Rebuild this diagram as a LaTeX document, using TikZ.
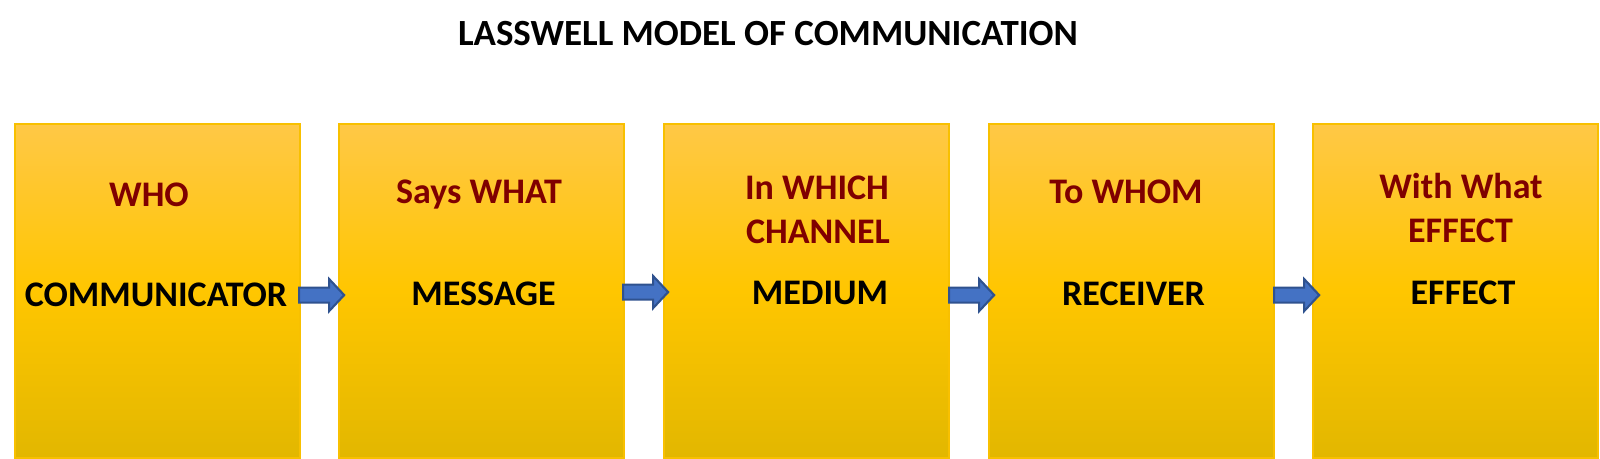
\documentclass[tikz,border=0pt]{standalone}
\usepackage{fontspec}
\setmainfont{Carlito}
\usetikzlibrary{calc}
\definecolor{topc}{HTML}{FFC846}
\definecolor{midc}{HTML}{FFC600}
\definecolor{botc}{HTML}{E2B700}
\definecolor{boxedge}{HTML}{F8C000}
\definecolor{dred}{HTML}{7F0000}
\definecolor{ablue}{HTML}{4472C4}
\definecolor{ablued}{HTML}{2F528F}
\begin{document}
\begin{tikzpicture}[x=0.01cm,y=-0.01cm,
  box/.style={draw=boxedge, line width=0.4pt, top color=topc, bottom color=botc, middle color=midc,
    minimum width=2.85cm, minimum height=3.34cm, anchor=north west, inner sep=0pt, outer sep=0pt},
  redtxt/.style={text=dred, font=\fontsize{10.24pt}{12pt}\selectfont\bfseries, anchor=base, inner sep=0pt},
  blacktxt/.style={text=black, font=\fontsize{10.24pt}{12pt}\selectfont\bfseries, anchor=base, inner sep=0pt},
  titletxt/.style={text=black, font=\fontsize{10.5pt}{12pt}\selectfont\bfseries, anchor=base, inner sep=0pt},
  barrow/.style={fill=ablue, draw=ablued, line width=0.6pt, line join=miter}
]
\useasboundingbox (0,0) rectangle (1600,459);
\node[titletxt] (title) at (768,46) {LASSWELL MODEL OF COMMUNICATION};

\node[box] (b1) at (15,124) {};
\node[box] (b2) at (339,124) {};
\node[box] (b3) at (664,124) {};
\node[box] (b4) at (989,124) {};
\node[box] (b5) at (1313,124) {};

\node[redtxt] (t1) at (149,207) {WHO};
\node[blacktxt] (s1) at (156,307) {COMMUNICATOR};
\node[redtxt] (t2) at (479,204) {Says WHAT};
\node[blacktxt] (s2) at (483.5,306) {MESSAGE};
\node[redtxt] (t3a) at (817,200) {In WHICH};
\node[redtxt] (t3b) at (818,244) {CHANNEL};
\node[blacktxt] (s3) at (820,305) {MEDIUM};
\node[redtxt] (t4) at (1126,204) {To WHOM};
\node[blacktxt] (s4) at (1133.5,306) {RECEIVER};
\node[redtxt] (t5a) at (1461,199) {With What};
\node[redtxt] (t5b) at (1460.5,243) {EFFECT};
\node[blacktxt] (s5) at (1463,305) {EFFECT};

\coordinate (a1) at ([xshift=-0.01cm,yshift=-0.04cm]b1.east);
\coordinate (a2) at ([xshift=-0.01cm,yshift=-0.01cm]b2.east);
\coordinate (a3) at ([xshift=0cm,yshift=-0.04cm]b3.east);
\coordinate (a4) at ([xshift=0cm,yshift=-0.04cm]b4.east);
\foreach \a in {a1,a2,a3,a4}{
  \draw[barrow] (\a) ++(0,-7.5) -- ++(30,0) -- ++(0,-8.5) -- ++(15,16) -- ++(-15,16) -- ++(0,-8.5) -- ++(-30,0) -- cycle;
}
\end{tikzpicture}
\end{document}
